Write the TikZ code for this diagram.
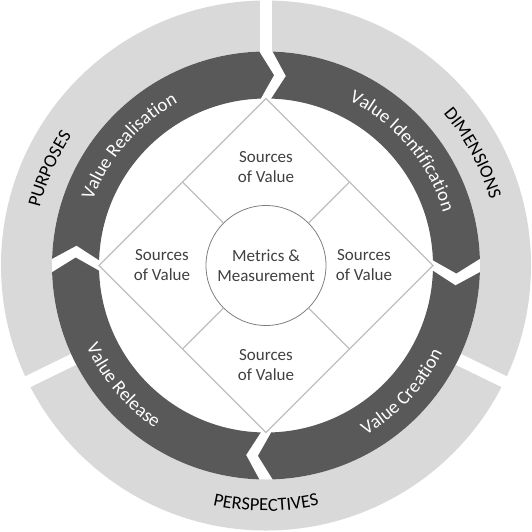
\documentclass[tikz,border=0pt]{standalone}
\usepackage{fontspec}
\setmainfont{Carlito}
\usetikzlibrary{decorations.text}

\definecolor{ringdark}{HTML}{595959}
\definecolor{ringlight}{HTML}{D9D9D9}
\definecolor{diamondline}{HTML}{BFBFBF}
\definecolor{circleline}{HTML}{808080}
\definecolor{textgray}{HTML}{404040}

% one dark chevron arc, clockwise from #1 to #2
\newcommand{\chevseg}[2]{%
  \fill [ringdark] (#1:214) arc [start angle=#1, end angle=#2, radius=214]
    -- ({#2-4.2}:190.5) -- (#2:167) arc [start angle=#2, end angle=#1, radius=167]
    -- ({#1-4.2}:190.5) -- cycle;}

% text on an arc: colour, font size, radius, start angle, end angle, text
\newcommand{\arclabel}[6]{%
  \path [decorate, decoration={text along path, text align=center,
    text={|\color{#1}\fontsize{#2}{#2}\selectfont|#6}}]
    (#4:#3) arc [start angle=#4, end angle=#5, radius=#3];}

\begin{document}
\begin{tikzpicture}[x=1pt, y=1pt,
    sourcetext/.style={align=center, text=textgray, font=\fontsize{17}{20}\selectfont},
    diamondedge/.style={draw=diamondline, line width=1.3pt}]
  \useasboundingbox (-266,-265.5) rectangle (266,265.5);

  % outer light ring with three gaps
  \fill [ringlight] (0,0) circle (265);
  \fill [white] (0,0) circle (214);
  \draw [white, line width=12pt] (90:214) -- (90:270);
  \draw [white, line width=12pt] (-26:214) -- (-26:270);
  \draw [white, line width=12pt] (206:214) -- (206:270);

  % dark chevron ring
  \chevseg{268.2}{181.8}
  \chevseg{178.2}{91.8}
  \chevseg{88.2}{1.8}
  \chevseg{-1.8}{-88.2}

  % diamond
  \coordinate (dtop) at (0,167);
  \coordinate (dright) at (167,0);
  \coordinate (dbottom) at (0,-167);
  \coordinate (dleft) at (-167,0);
  \draw [diamondedge] (dtop) -- (dright) -- (dbottom) -- (dleft) -- cycle;

  \node [circle, draw=circleline, line width=0.8pt, fill=white, minimum size=120pt, inner sep=0pt,
    sourcetext] (metrics) at (0,0) {Metrics \&\\Measurement};

  \coordinate (mne) at (83.5,83.5);
  \coordinate (mse) at (83.5,-83.5);
  \coordinate (msw) at (-83.5,-83.5);
  \coordinate (mnw) at (-83.5,83.5);
  \draw [diamondedge] (metrics.45) -- (mne);
  \draw [diamondedge] (metrics.-45) -- (mse);
  \draw [diamondedge] (metrics.-135) -- (msw);
  \draw [diamondedge] (metrics.135) -- (mnw);

  \node [sourcetext] (srctop) at (0,98) {Sources\\of Value};
  \node [sourcetext] (srcright) at (98,0) {Sources\\of Value};
  \node [sourcetext] (srcbottom) at (0,-100) {Sources\\of Value};
  \node [sourcetext] (srcleft) at (-104,0) {Sources\\of Value};

  % ring labels
  \arclabel{white}{19}{185}{184}{94}{Value Realisation}
  \arclabel{white}{19}{185}{90}{-10}{Value Identification}
  \arclabel{white}{19}{197}{-88}{2}{Value Creation}
  \arclabel{white}{19}{197}{180}{260}{Value Release}

  % outer labels
  \arclabel{black}{18.5}{233.5}{186}{126}{PURPOSES}
  \arclabel{black}{18.5}{233.5}{64}{-7}{DIMENSIONS}
  \arclabel{black}{18.5}{245.5}{225}{315}{PERSPECTIVES}
\end{tikzpicture}
\end{document}
